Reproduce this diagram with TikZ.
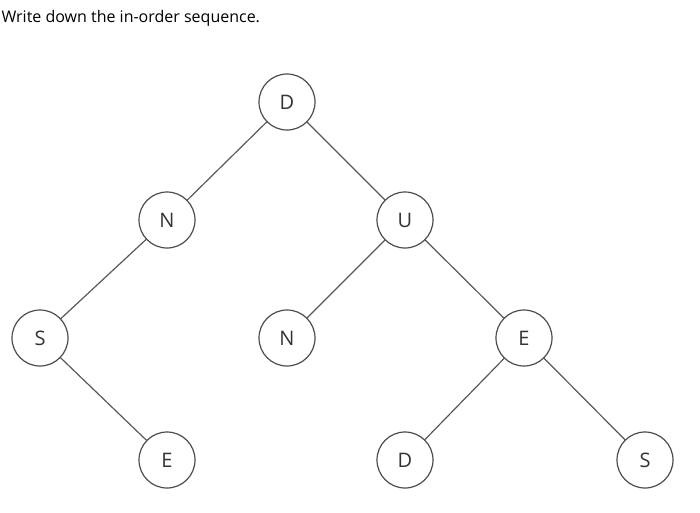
\documentclass[tikz,border=0pt]{standalone}
\usepackage{fontspec}
\setmainfont{Open Sans}
\begin{document}
\begin{tikzpicture}[x=1pt,y=-1pt,
  tn/.style={circle,draw=black!70,line width=1.2pt,minimum size=56pt,inner sep=0pt,font=\fontsize{20}{24}\selectfont,text=black!80,fill=white},
  ed/.style={draw=black!65,line width=1.2pt}]
\useasboundingbox (0,0) rectangle (700,512);
\node[anchor=west,font=\fontsize{16}{19}\selectfont] (t) at (-2,18) {Write down the in-order sequence.};
\node[tn] (d1) at (287,102) {D};
\node[tn] (n1) at (167,220) {N};
\node[tn] (u) at (405,220) {U};
\node[tn] (s1) at (40,338) {S};
\node[tn] (n2) at (287,338) {N};
\node[tn] (e1) at (524,338) {E};
\node[tn] (e2) at (167,460) {E};
\node[tn] (d2) at (405,460) {D};
\node[tn] (s2) at (645,460) {S};
\draw[ed] (d1)--(n1); \draw[ed] (d1)--(u);
\draw[ed] (n1)--(s1); \draw[ed] (s1)--(e2);
\draw[ed] (u)--(n2); \draw[ed] (u)--(e1);
\draw[ed] (e1)--(d2); \draw[ed] (e1)--(s2);
\end{tikzpicture}
\end{document}
